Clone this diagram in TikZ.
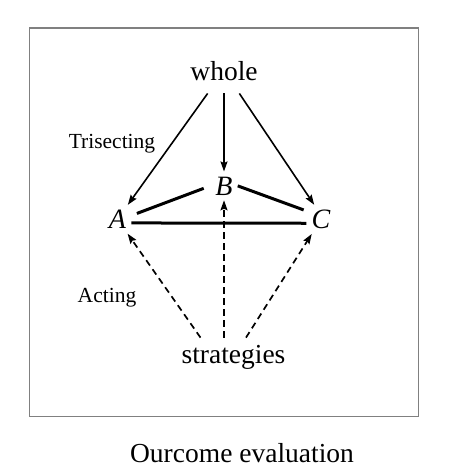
\documentclass[tikz,border=0pt]{standalone}
\usepackage{fontspec}
\setmainfont{Liberation Serif}
\usetikzlibrary{arrows.meta}

\begin{document}
\begin{tikzpicture}[x=1pt,y=-1pt,inner sep=0.1mm,
  >={Stealth[length=10pt,width=7pt,inset=1.5pt]},
  big/.style={font=\fontsize{27.5}{30}\selectfont, anchor=base},
  small/.style={font=\fontsize{21.5}{24}\selectfont, anchor=base},
  corner/.style={font=\fontsize{28}{30}\selectfont\itshape, anchor=base, inner sep=5pt},
  arr/.style={->, line width=1.6pt},
  link/.style={line width=3pt},
  act/.style={->, line width=1.7pt, dash pattern=on 6.5pt off 4.5pt}]

\useasboundingbox (0,0) rectangle (474,474);
\draw[black!50!white, line width=1.5pt] (29.5,28) rectangle (418.5,416.5);

\node(whole) at (224,80) [big, inner xsep=2pt, inner ysep=13pt] {whole};
\node(strat) at (233.5,363) [big, inner ysep=7pt] {strategies};
\node(A) at (117.5,228.5) [corner] {A};
\node(B) at (224,195) [corner] {B};
\node(C) at (321,228.5) [corner] {C};
\node(tri) at (112,148) [small] {Trisecting};
\node(acting) at (107,302) [small] {Acting};
\node(title) at (242,462) [big] {Ourcome evaluation};

% trisecting
\draw[arr] (whole) -- (A);
\draw[arr] (whole) -- (B);
\draw[arr] (whole) -- (C.115);

\draw[link, shorten <=6pt, shorten >=7pt] (A.15) -- (B.west);
\draw[link, shorten >=3pt] (B.east) -- (C.150);
\draw[link] (A.-15) -- (C.195);

% acting
\draw[act] ([xshift=-33pt]strat.north) -- (A);
\draw[act] (B |- strat.north) -- (B);
\draw[act] ([xshift=12.5pt]strat.north) -- (C);

\end{tikzpicture}
\end{document}
